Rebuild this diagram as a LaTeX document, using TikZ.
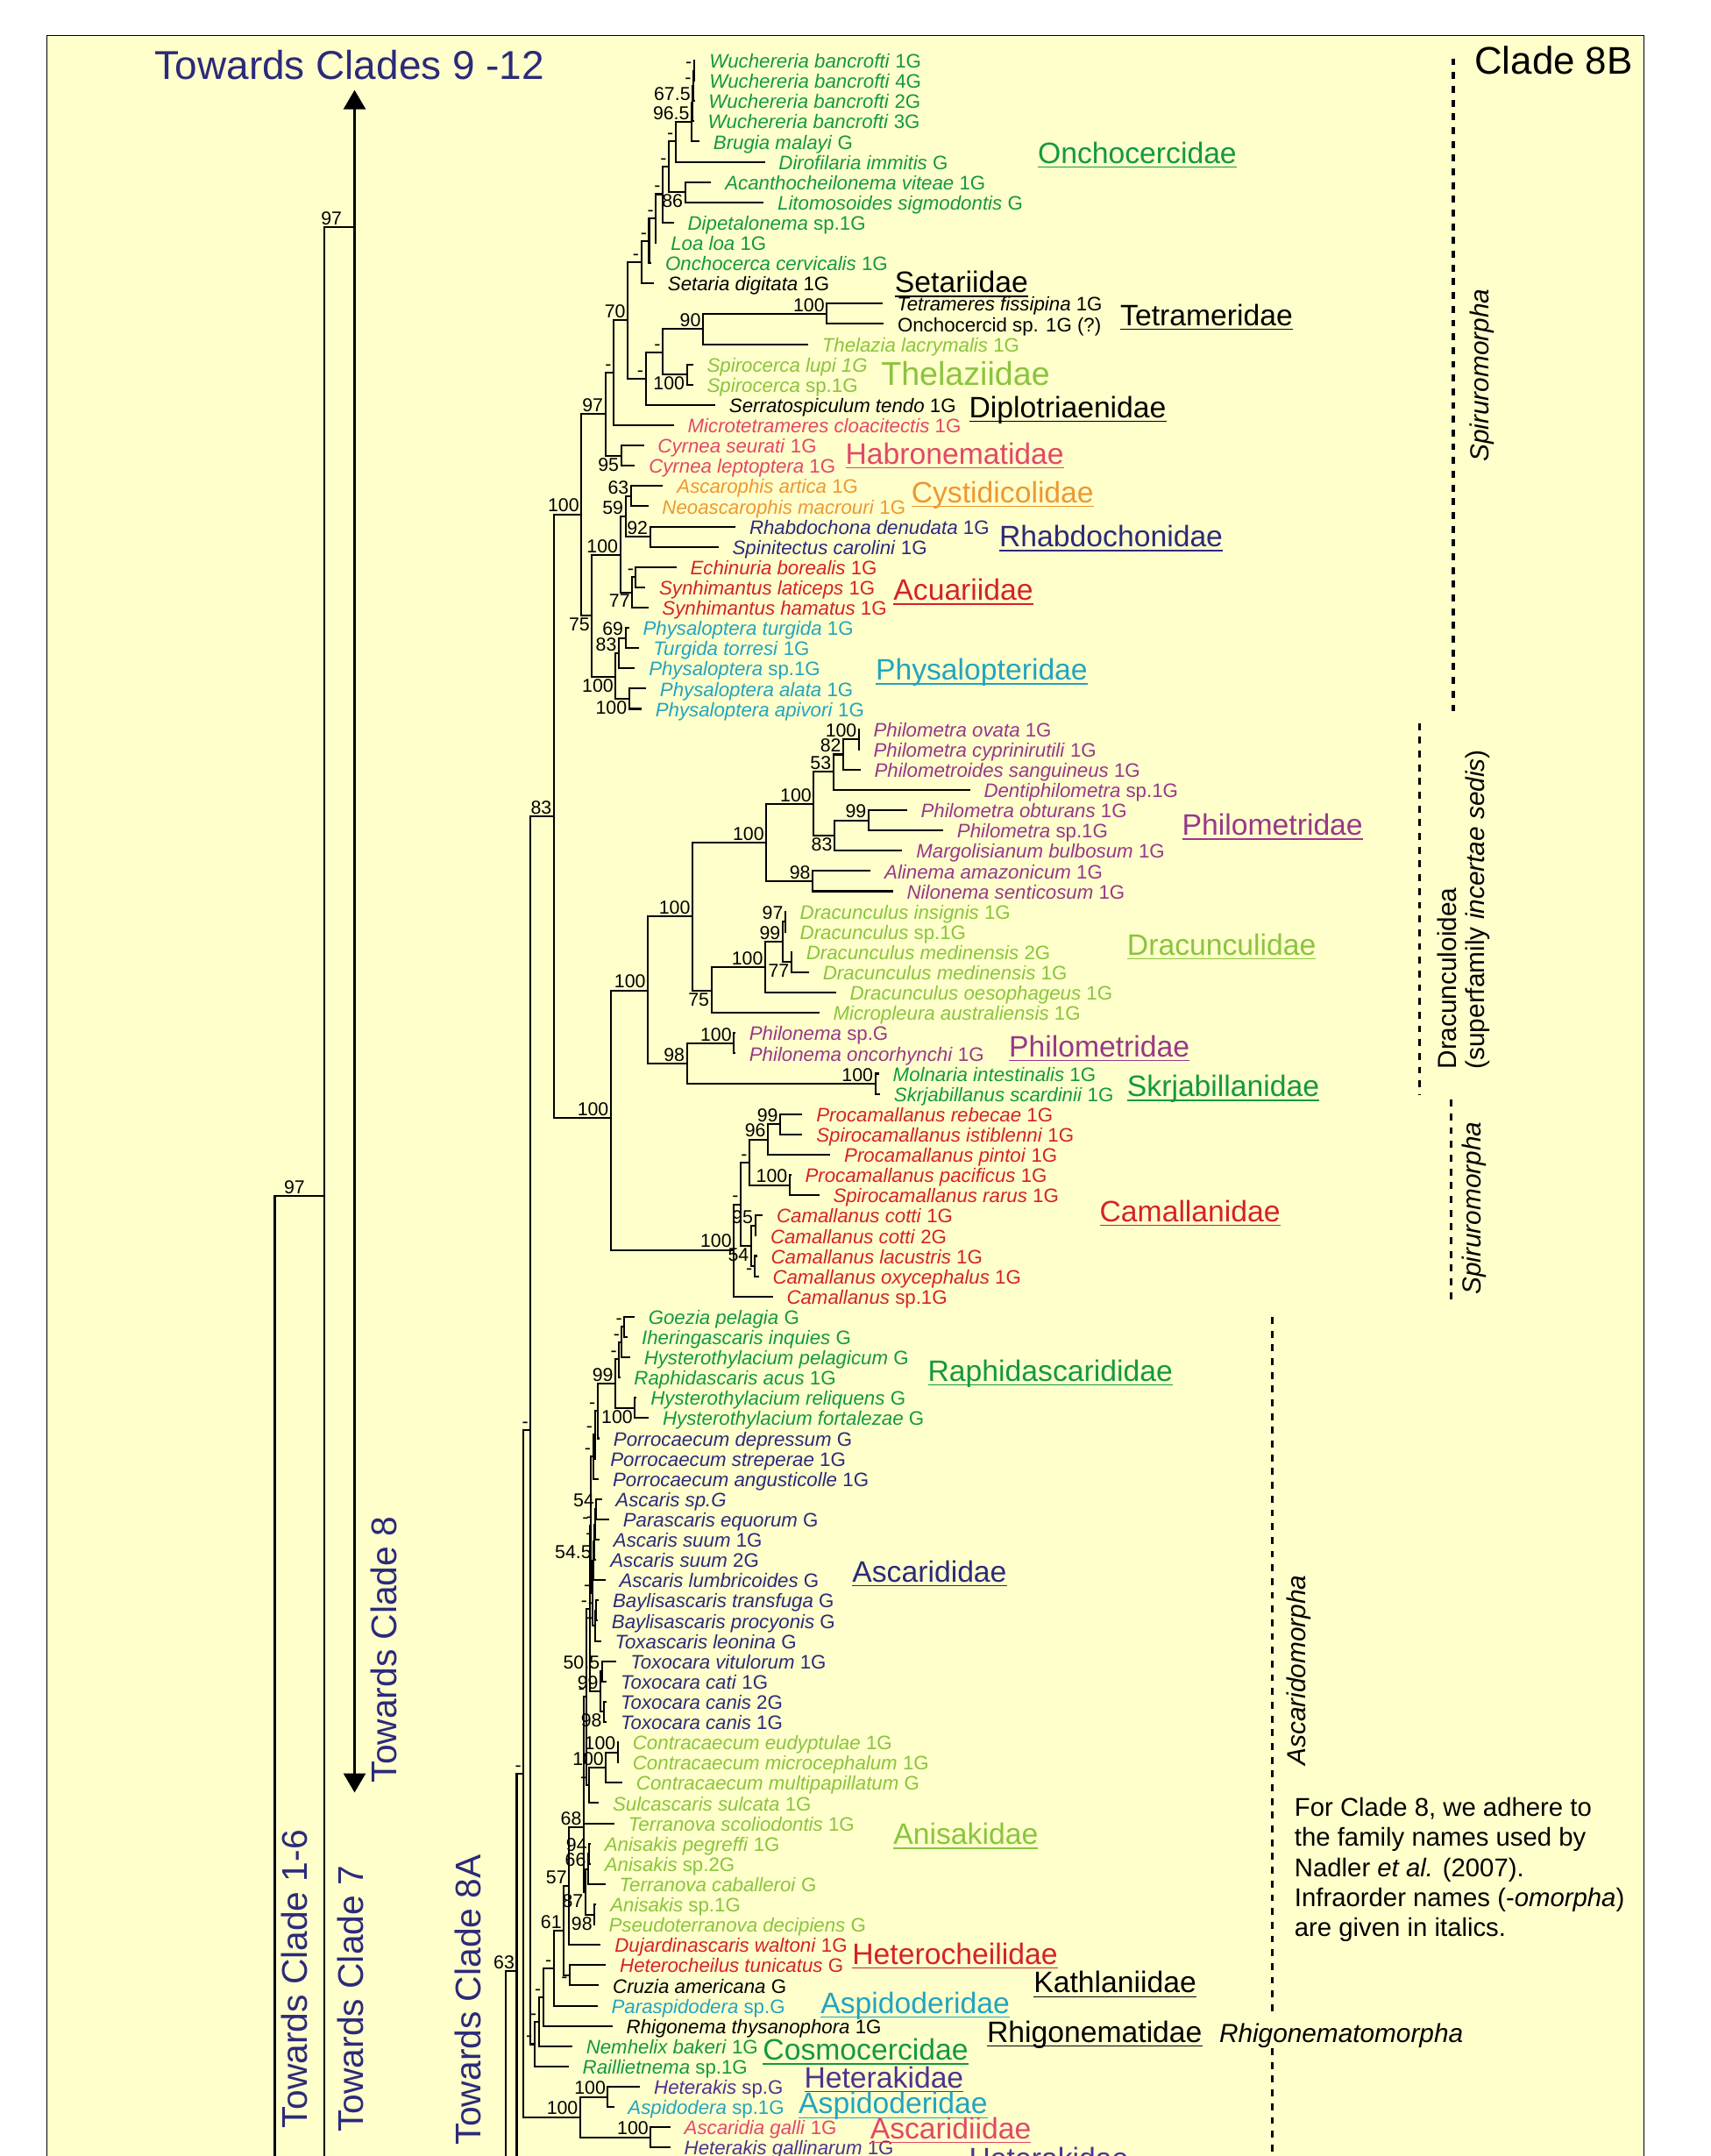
\documentclass[tikz,border=0pt]{standalone}
\usepackage{fontspec}
\setmainfont{Liberation Sans}
\usetikzlibrary{arrows.meta}
\definecolor{bgyellow}{RGB}{255,255,204}
\definecolor{navy}{RGB}{43,42,122}
\definecolor{ongreen}{RGB}{20,152,66}
\definecolor{ylgreen}{RGB}{138,196,62}
\definecolor{rosered}{RGB}{226,72,104}
\definecolor{tomred}{RGB}{212,34,40}
\definecolor{amber}{RGB}{236,152,50}
\definecolor{physteal}{RGB}{36,164,190}
\definecolor{plum}{RGB}{152,56,138}
\definecolor{hetpurple}{RGB}{78,50,142}
\newcommand\famul[1]{\setbox0\hbox{#1}\rlap{\rule[-3.2pt]{\wd0}{0.9pt}}\box0}
\begin{document}
\begin{tikzpicture}[x=1pt,y=-1pt,
  leaf/.style={anchor=west,inner xsep=9.5pt,inner ysep=0pt,text height=11pt,text depth=0pt,font=\fontsize{14.2}{14.2}\selectfont},
  bs/.style={inner sep=1pt,text=black,font=\fontsize{13.6}{13.6}\selectfont},
  al/.style={label={[bs]above left:#1}},
  bl/.style={label={[bs]below left:#1}},
  fam/.style={anchor=base west,inner sep=0pt,font=\fontsize{21.5}{21.5}\selectfont},
  sidetext/.style={inner sep=0pt,font=\fontsize{19}{19}\selectfont},
  toward/.style={inner sep=0pt,text=navy,font=\fontsize{26}{26}\selectfont},
  dotline/.style={line width=2pt,dash pattern=on 5pt off 5pt},
  trunk/.style={line width=1.4pt}]
\useasboundingbox (0,0) rectangle (1245,1568.4);
\clip (0,0) rectangle (1245,1568.4);
\fill[white] (0,0) rectangle (1245,1568.4);
\draw[fill=bgyellow,line width=0.8pt] (34,26) rectangle (1196,1600);

\node[toward,font=\fontsize{29.3}{29.3}\selectfont] (tc912) at (254.5,47) {Towards Clades 9 -12};
\node[inner sep=0pt,font=\fontsize{28}{28}\selectfont] (c8b) at (1130.5,44) {Clade 8B};
\coordinate (up) at (258,65.5);
\coordinate (dn) at (258,1304);
\draw[line width=1.6pt,{Triangle[width=16pt,length=14pt]}-{Triangle[width=16pt,length=14pt]}] (dn) -- (up);
\coordinate[label={[bs,xshift=-8pt]above left:97}] (c9) at (258,165);
\coordinate[label={[bs,xshift=-13pt]above left:97}] (k7) at (236,870);
\coordinate (k7b) at (236,1600);
\coordinate (k6b) at (200,1600);
\draw[trunk] (c9) -| (k7) -- (k7b);
\draw[trunk] (k7) -| (k6b);
\node[toward,rotate=90,anchor=east] (tc16) at (214.5,1331) {Towards Clade 1-6};
\node[toward,rotate=90,anchor=east] (tc7) at (255,1357) {Towards Clade 7};
\node[toward,rotate=90,anchor=east] (tc8) at (279.5,1103) {Towards Clade 8};
\node[toward,rotate=90,anchor=east] (tc8a) at (340.5,1349) {Towards Clade 8A};

\begin{scope}[y=-14.74pt,yshift=-44pt,line width=1.3pt]
\node[leaf,ongreen] (wbA) at (506,0) {\textit{Wuchereria bancrofti} 1G};
\node[leaf,ongreen] (wbB) at (506,1) {\textit{Wuchereria bancrofti} 4G};
\node[leaf,ongreen] (wbC) at (505.5,2) {\textit{Wuchereria bancrofti} 2G};
\node[leaf,ongreen] (wbD) at (505,3) {\textit{Wuchereria bancrofti} 3G};
\node[leaf,ongreen] (bma) at (509,4) {\textit{Brugia malayi} G};
\node[leaf,ongreen] (dim) at (556.5,5) {\textit{Dirofilaria immitis} G};
\node[leaf,ongreen] (avi) at (517.5,6) {\textit{Acanthocheilonema viteae} 1G};
\node[leaf,ongreen] (lsi) at (555.7,7) {\textit{Litomosoides sigmodontis} G};
\node[leaf,ongreen] (dip) at (490.3,8) {\textit{Dipetalonema} sp.1G};
\node[leaf,ongreen] (llo) at (478,9) {\textit{Loa loa} 1G};
\node[leaf,ongreen] (oce) at (474,10) {\textit{Onchocerca cervicalis} 1G};
\node[leaf] (sdi) at (475.8,11) {\textit{Setaria digitata} 1G};
\node[leaf] (tfi) at (642.5,12) {\textit{Tetrameres fissipina} 1G};
\node[leaf] (onc) at (643,13) {Onchocercid sp. 1G (?)};
\node[leaf,ylgreen] (tla) at (588,14) {\textit{Thelazia lacrymalis} 1G};
\node[leaf,ylgreen] (slu) at (504.3,15) {\textit{Spirocerca lupi 1G}};
\node[leaf,ylgreen] (ssp) at (504.3,16) {\textit{Spirocerca} sp.1G};
\node[leaf] (ste) at (520.5,17) {\textit{Serratospiculum tendo} 1G};
\node[leaf,rosered] (mcl) at (490.3,18) {\textit{Microtetrameres cloacitectis} 1G};
\node[leaf,rosered] (cse) at (468.5,19) {\textit{Cyrnea seurati} 1G};
\node[leaf,rosered] (cle) at (462,20) {\textit{Cyrnea leptoptera} 1G};
\node[leaf,amber] (aar) at (482.5,21) {\textit{Ascarophis artica} 1G};
\node[leaf,amber] (nma) at (471.7,22) {\textit{Neoascarophis macrouri} 1G};
\node[leaf,navy] (rde) at (535.2,23) {\textit{Rhabdochona denudata} 1G};
\node[leaf,navy] (sca) at (522.8,24) {\textit{Spinitectus carolini} 1G};
\node[leaf,tomred] (ebo) at (492.2,25) {\textit{Echinuria borealis} 1G};
\node[leaf,tomred] (sla) at (469.5,26) {\textit{Synhimantus laticeps} 1G};
\node[leaf,tomred] (sha) at (471.7,27) {\textit{Synhimantus hamatus} 1G};
\node[leaf,physteal] (ptu) at (457.7,28) {\textit{Physaloptera turgida} 1G};
\node[leaf,physteal] (tto) at (465.2,29) {\textit{Turgida torresi} 1G};
\node[leaf,physteal] (psp) at (462,30) {\textit{Physaloptera} sp.1G};
\node[leaf,physteal] (pal) at (470.1,31) {\textit{Physaloptera alata} 1G};
\node[leaf,physteal] (pap) at (466.8,32) {\textit{Physaloptera apivori} 1G};
\node[leaf,plum] (pov) at (625.5,33) {\textit{Philometra ovata} 1G};
\node[leaf,plum] (pcy) at (625.5,34) {\textit{Philometra cyprinirutili} 1G};
\node[leaf,plum] (psa) at (626.1,35) {\textit{Philometroides sanguineus} 1G};
\node[leaf,plum] (dsp) at (705.8,36) {\textit{Dentiphilometra} sp.1G};
\node[leaf,plum] (pob) at (659.9,37) {\textit{Philometra obturans} 1G};
\node[leaf,plum] (phs) at (686.3,38) {\textit{Philometra} sp.1G};
\node[leaf,plum] (mbu) at (656.6,39) {\textit{Margolisianum bulbosum} 1G};
\node[leaf,plum] (aam) at (633.5,40) {\textit{Alinema amazonicum} 1G};
\node[leaf,plum] (nse) at (649.7,41) {\textit{Nilonema senticosum} 1G};
\node[leaf,ylgreen] (din) at (572,42) {\textit{Dracunculus insignis} 1G};
\node[leaf,ylgreen] (dsq) at (572,43) {\textit{Dracunculus} sp.1G};
\node[leaf,ylgreen] (dmB) at (576.5,44) {\textit{Dracunculus medinensis} 2G};
\node[leaf,ylgreen] (dmA) at (588.7,45) {\textit{Dracunculus medinensis} 1G};
\node[leaf,ylgreen] (doe) at (608.3,46) {\textit{Dracunculus oesophageus} 1G};
\node[leaf,ylgreen] (mau) at (596.1,47) {\textit{Micropleura australiensis} 1G};
\node[leaf,plum] (phn) at (535.1,48) {\textit{Philonema} sp.G};
\node[leaf,plum] (pon) at (535.1,49) {\textit{Philonema oncorhynchi} 1G};
\node[leaf,ongreen] (min) at (639.6,50) {\textit{Molnaria intestinalis} 1G};
\node[leaf,ongreen] (ssc) at (640.4,51) {\textit{Skrjabillanus scardinii} 1G};
\node[leaf,tomred] (pre) at (583.9,52) {\textit{Procamallanus rebecae} 1G};
\node[leaf,tomred] (sis) at (583.9,53) {\textit{Spirocamallanus istiblenni} 1G};
\node[leaf,tomred] (ppi) at (604.2,54) {\textit{Procamallanus pintoi} 1G};
\node[leaf,tomred] (ppa) at (575.7,55) {\textit{Procamallanus pacificus} 1G};
\node[leaf,tomred] (sra) at (596.1,56) {\textit{Spirocamallanus rarus} 1G};
\node[leaf,tomred] (ccA) at (555,57) {\textit{Camallanus cotti} 1G};
\node[leaf,tomred] (ccB) at (550.5,58) {\textit{Camallanus cotti} 2G};
\node[leaf,tomred] (cla) at (550.9,59) {\textit{Camallanus lacustris} 1G};
\node[leaf,tomred] (cox) at (552.1,60) {\textit{Camallanus oxycephalus} 1G};
\node[leaf,tomred] (csp) at (562.3,61) {\textit{Camallanus} sp.1G};
\node[leaf,ongreen] (gpe) at (461.7,62) {\textit{Goezia pelagia} G};
\node[leaf,ongreen] (iin) at (456.8,63) {\textit{Iheringascaris inquies} G};
\node[leaf,ongreen] (hpe) at (458.5,64) {\textit{Hysterothylacium pelagicum} G};
\node[leaf,ongreen] (rac) at (451.3,65) {\textit{Raphidascaris acus} 1G};
\node[leaf,ongreen] (hre) at (463.3,66) {\textit{Hysterothylacium reliquens} G};
\node[leaf,ongreen] (hfo) at (472.1,67) {\textit{Hysterothylacium fortalezae} G};
\node[leaf,navy] (pde) at (436.3,68) {\textit{Porrocaecum depressum} G};
\node[leaf,navy] (pst) at (434,69) {\textit{Porrocaecum streperae} 1G};
\node[leaf,navy] (pan) at (435.7,70) {\textit{Porrocaecum angusticolle} 1G};
\node[leaf,navy] (asp) at (437.9,71) {\textit{Ascaris sp.G}};
\node[leaf,navy] (peq) at (443.2,72) {\textit{Parascaris equorum} G};
\node[leaf,navy] (asA) at (436.3,73) {\textit{Ascaris suum} 1G};
\node[leaf,navy] (asB) at (434,74) {\textit{Ascaris suum} 2G};
\node[leaf,navy] (alu) at (440.5,75) {\textit{Ascaris lumbricoides} G};
\node[leaf,navy] (btr) at (435.7,76) {\textit{Baylisascaris transfuga} G};
\node[leaf,navy] (bpr) at (435,77) {\textit{Baylisascaris procyonis} G};
\node[leaf,navy] (tle) at (437.3,78) {\textit{Toxascaris leonina} G};
\node[leaf,navy] (tvi) at (448.7,79) {\textit{Toxocara vitulorum} 1G};
\node[leaf,navy] (tca) at (441.5,80) {\textit{Toxocara cati} 1G};
\node[leaf,navy] (tcB) at (441.5,81) {\textit{Toxocara canis} 2G};
\node[leaf,navy] (tcA) at (441.5,82) {\textit{Toxocara canis} 1G};
\node[leaf,ylgreen] (ceu) at (450.3,83) {\textit{Contracaecum eudyptulae} 1G};
\node[leaf,ylgreen] (cmi) at (450.3,84) {\textit{Contracaecum microcephalum} 1G};
\node[leaf,ylgreen] (cmu) at (452.9,85) {\textit{Contracaecum multipapillatum} G};
\node[leaf,ylgreen] (ssu) at (435.7,86) {\textit{Sulcascaris sulcata} 1G};
\node[leaf,ylgreen] (tsc) at (447.1,87) {\textit{Terranova scoliodontis} 1G};
\node[leaf,ylgreen] (ape) at (429.8,88) {\textit{Anisakis pegreffi} 1G};
\node[leaf,ylgreen] (asq) at (429.8,89) {\textit{Anisakis} sp.2G};
\node[leaf,ylgreen] (tcb) at (440.5,90) {\textit{Terranova caballeroi} G};
\node[leaf,ylgreen] (asr) at (434,91) {\textit{Anisakis} sp.1G};
\node[leaf,ylgreen] (pdc) at (432.9,92) {\textit{Pseudoterranova decipiens} G};
\node[leaf,tomred] (dwa) at (437.2,93) {\textit{Dujardinascaris waltoni} 1G};
\node[leaf,tomred] (htu) at (440.9,94) {\textit{Heterocheilus tunicatus} G};
\node[leaf] (cru) at (435.8,95) {\textit{Cruzia americana} G};
\node[leaf,physteal] (par) at (434.8,96) {\textit{Paraspidodera} sp.G};
\node[leaf] (rth) at (445.7,97) {\textit{Rhigonema thysanophora} 1G};
\node[leaf,ongreen] (nba) at (416.4,98) {\textit{Nemhelix bakeri} 1G};
\node[leaf,ongreen] (rai) at (413.8,99) {\textit{Raillietnema} sp.1G};
\node[leaf,hetpurple] (hsp) at (465.8,100) {\textit{Heterakis} sp.G};
\node[leaf,physteal] (asd) at (446.8,101) {\textit{Aspidodera} sp.1G};
\node[leaf,rosered] (aga) at (487.8,102) {\textit{Ascaridia galli} 1G};
\node[leaf,hetpurple] (hga) at (487.8,103) {\textit{Heterakis gallinarum} 1G};

\coordinate[al=-] (o1) at (505,0.5);
\coordinate[al=-] (o2) at (504.5,1.25);
\coordinate[al=67.5] (o3) at (504,2.1);
\coordinate[al=96.5] (o4) at (503.3,3.05);
\coordinate[al=-] (o5) at (491.6,4);
\coordinate[bl=86] (o6) at (498.5,6.5);
\coordinate[al=-] (o7) at (486.7,5.25);
\coordinate[al=-] (o8) at (482.2,6.6);
\coordinate[al=-] (o9) at (477.3,7.8);
\coordinate[al=-] (o10) at (472.3,8.9);
\coordinate[al=-] (o11) at (466.6,9.95);
\coordinate[al=100] (th1) at (601.6,12.5);
\coordinate[al=90] (th2) at (511.5,13.25);
\coordinate[bl=100] (th3) at (499.8,15.5);
\coordinate[al=-] (th4) at (482.2,14.4);
\coordinate[al=-] (th5) at (469.8,15.7);
\coordinate[al=70] (o12) at (456.8,12.8);
\coordinate[al=-] (o13) at (446.5,15.4);
\coordinate[bl=95] (cy) at (452,19.5);
\coordinate[al=97] (o14) at (440.5,17.45);
\coordinate[al=63] (cd) at (459.1,21.5);
\coordinate[al=92] (rh) at (473,23.5);
\coordinate[al=59] (cr) at (455.2,22.5);
\coordinate[al=-] (ac1) at (462.7,25.5);
\coordinate[bl=77] (ac2) at (460,26.25);
\coordinate[al=100] (cra) at (451.3,24.4);
\coordinate[al=69] (pp1) at (455.2,28.5);
\coordinate[al=83] (pp2) at (450.3,29.25);
\coordinate[bl=100] (pp3) at (457.8,31.5);
\coordinate[bl=100] (pp4) at (448,30.4);
\coordinate[bl=75] (crp) at (430.8,27.4);
\coordinate[al=100] (sp1) at (423,22.4);
\draw (wbA.west) -| (o1) |- (wbB.west);
\draw (o1) -| (o2) |- (wbC.west);
\draw (o2) -| (o3) |- (wbD.west);
\draw (o3) -| (o4) |- (bma.west);
\draw (o4) -| (o5) |- (dim.west);
\draw (avi.west) -| (o6) |- (lsi.west);
\draw (o5) -| (o7) |- (o6);
\draw (o7) -| (o8) |- (dip.west);
\draw (o8) -| (o9) |- (llo.west);
\draw (o9) -| (o10) |- (oce.west);
\draw (o10) -| (o11) |- (sdi.west);
\draw (tfi.west) -| (th1) |- (onc.west);
\draw (th1) -| (th2) |- (tla.west);
\draw (slu.west) -| (th3) |- (ssp.west);
\draw (th2) -| (th4) |- (th3);
\draw (th4) -| (th5) |- (ste.west);
\draw (o11) -| (o12) |- (th5);
\draw (o12) -| (o13) |- (mcl.west);
\draw (cse.west) -| (cy) |- (cle.west);
\draw (o13) -| (o14) |- (cy);
\draw (aar.west) -| (cd) |- (nma.west);
\draw (rde.west) -| (rh) |- (sca.west);
\draw (cd) -| (cr) |- (rh);
\draw (ebo.west) -| (ac1) |- (sla.west);
\draw (ac1) -| (ac2) |- (sha.west);
\draw (cr) -| (cra) |- (ac2);
\draw (ptu.west) -| (pp1) |- (tto.west);
\draw (pp1) -| (pp2) |- (psp.west);
\draw (pal.west) -| (pp3) |- (pap.west);
\draw (pp2) -| (pp4) |- (pp3);
\draw (cra) -| (crp) |- (pp4);
\draw (o14) -| (sp1) |- (crp);

\coordinate[al=100] (d1) at (625,33.5);
\coordinate[al=82] (d2) at (613.7,34.25);
\coordinate[al=53] (d3) at (606.4,35.1);
\coordinate[al=99] (d4) at (632,37.5);
\coordinate[bl=83] (d5) at (607.2,38.25);
\coordinate[al=100] (d6) at (592.1,36.7);
\coordinate[al=98] (d7) at (591.3,40.5);
\coordinate[al=100] (d8) at (557.6,38.6);
\coordinate[al=97] (d9) at (571.5,42.5);
\coordinate[bl=77] (d10) at (575.9,44.5);
\coordinate[al=99] (d11) at (569.5,43.5);
\coordinate[al=100] (d12) at (556.8,44.75);
\coordinate[bl=75] (d13) at (517.7,45.9);
\coordinate[al=100] (d14) at (503.9,42.25);
\coordinate[al=100] (d15) at (534,48.5);
\coordinate[al=100] (d16) at (636.9,50.5);
\coordinate[al=98] (d17) at (499.8,49.5);
\coordinate[al=100] (d18) at (471.4,45.9);
\coordinate[al=99] (ca1) at (567.7,52.5);
\coordinate[al=96] (ca2) at (558.8,53.25);
\coordinate[al=100] (ca3) at (574.6,55.5);
\coordinate[al=-] (ca4) at (545.4,54.4);
\coordinate[al=95] (ca5) at (549.5,57.5);
\coordinate[bl=-] (ca6) at (549,59.5);
\coordinate[bl=54] (ca7) at (546.5,58.5);
\coordinate[al=-] (ca8) at (539,56.45);
\coordinate[al=100] (cm) at (534,58.7);
\coordinate[al=100] (dc) at (444.5,52.2);
\coordinate[al=83] (sp2) at (403,37.3);
\draw (pov.west) -| (d1) |- (pcy.west);
\draw (d1) -| (d2) |- (psa.west);
\draw (d2) -| (d3) |- (dsp.west);
\draw (pob.west) -| (d4) |- (phs.west);
\draw (d4) -| (d5) |- (mbu.west);
\draw (d3) -| (d6) |- (d5);
\draw (aam.west) -| (d7) |- (nse.west);
\draw (d6) -| (d8) |- (d7);
\draw (din.west) -| (d9) |- (dsq.west);
\draw (dmB.west) -| (d10) |- (dmA.west);
\draw (d9) -| (d11) |- (d10);
\draw (d11) -| (d12) |- (doe.west);
\draw (d12) -| (d13) |- (mau.west);
\draw (d8) -| (d14) |- (d13);
\draw (phn.west) -| (d15) |- (pon.west);
\draw (min.west) -| (d16) |- (ssc.west);
\draw (d15) -| (d17) |- (d16);
\draw (d14) -| (d18) |- (d17);
\draw (pre.west) -| (ca1) |- (sis.west);
\draw (ca1) -| (ca2) |- (ppi.west);
\draw (ppa.west) -| (ca3) |- (sra.west);
\draw (ca2) -| (ca4) |- (ca3);
\draw (ccA.west) -| (ca5) |- (ccB.west);
\draw (cla.west) -| (ca6) |- (cox.west);
\draw (ca5) -| (ca7) |- (ca6);
\draw (ca4) -| (ca8) |- (ca7);
\draw (ca8) -| (cm) |- (csp.west);
\draw (d18) -| (dc) |- (cm);
\draw (sp1) -| (sp2) |- (dc);

\coordinate[al=-] (r1) at (454.3,62.5);
\coordinate[al=-] (r2) at (452.5,63.25);
\coordinate[al=-] (r3) at (450.5,64.1);
\coordinate[bl=100] (r4) at (462,66.5);
\coordinate[al=99] (r5) at (447.8,65.3);
\coordinate[al=-] (p1) at (434.8,66.65);
\coordinate[al=-] (p2) at (432.8,67.8);
\coordinate[al=-] (p3) at (431.5,68.9);
\coordinate[al=54] (a1) at (434,71.5);
\coordinate[al=-] (a2) at (433,72.25);
\coordinate[al=-] (a3) at (432.5,73.1);
\coordinate[al=54.5] (a4) at (432,74.05);
\coordinate[al=-] (b1) at (434,76.5);
\coordinate[al=-] (b2) at (433,77.25);
\coordinate[al=-] (a5) at (431,75.65);
\coordinate[al=-] (p4) at (430,72.3);
\coordinate[al=50.5] (x1) at (438,79.5);
\coordinate[bl=98] (x2) at (439.5,81.5);
\coordinate[al=99] (x3) at (437,80.5);
\coordinate[al=-] (x4) at (429,76.4);
\coordinate[al=100] (c1) at (449.6,83.5);
\coordinate[al=100] (c2) at (441,84.25);
\coordinate[al=-] (s1) at (428.5,85.1);
\coordinate[al=-] (s0) at (427,80.75);
\coordinate[al=94] (k1) at (428.8,88.5);
\coordinate[al=66] (k2) at (428,89.25);
\coordinate[bl=98] (k3) at (432.6,91.5);
\coordinate[bl=87] (k4) at (426,90.4);
\coordinate[al=68] (nE) at (424.8,87.2);
\coordinate[al=57] (nD) at (414.1,90.1);
\coordinate[bl=-] (hc) at (414.6,94.5);
\coordinate[al=61] (nQ) at (410.3,92.3);
\coordinate[al=-] (nP) at (402.9,94.15);
\coordinate[al=-] (nR) at (395.4,95.6);
\coordinate[al=-] (nN) at (392.2,96.8);
\coordinate[al=-] (nA) at (389,97.9);
\coordinate[al=100] (h1) at (442.3,100.5);
\coordinate[al=100] (h2) at (473.5,102.5);
\coordinate[al=100] (h3) at (422.2,101.5);
\coordinate[al=-] (q1) at (386,67.6);
\coordinate[al=-] (q2) at (381,84.55);
\coordinate[al=63] (q3) at (376,94.3);
\coordinate (q3b) at (376,106);
\coordinate (q4) at (368,107);
\draw (gpe.west) -| (r1) |- (iin.west);
\draw (r1) -| (r2) |- (hpe.west);
\draw (r2) -| (r3) |- (rac.west);
\draw (hre.west) -| (r4) |- (hfo.west);
\draw (r3) -| (r5) |- (r4);
\draw (r5) -| (p1) |- (pde.west);
\draw (p1) -| (p2) |- (pst.west);
\draw (p2) -| (p3) |- (pan.west);
\draw (asp.west) -| (a1) |- (peq.west);
\draw (a1) -| (a2) |- (asA.west);
\draw (a2) -| (a3) |- (asB.west);
\draw (a3) -| (a4) |- (alu.west);
\draw (btr.west) -| (b1) |- (bpr.west);
\draw (b1) -| (b2) |- (tle.west);
\draw (a4) -| (a5) |- (b2);
\draw (p3) -| (p4) |- (a5);
\draw (tvi.west) -| (x1) |- (tca.west);
\draw (tcB.west) -| (x2) |- (tcA.west);
\draw (x1) -| (x3) |- (x2);
\draw (p4) -| (x4) |- (x3);
\draw (ceu.west) -| (c1) |- (cmi.west);
\draw (c1) -| (c2) |- (cmu.west);
\draw (c2) -| (s1) |- (ssu.west);
\draw (x4) -| (s0) |- (s1);
\draw (ape.west) -| (k1) |- (asq.west);
\draw (k1) -| (k2) |- (tcb.west);
\draw (asr.west) -| (k3) |- (pdc.west);
\draw (k2) -| (k4) |- (k3);
\draw (s0) -| (nE) |- (k4);
\draw (nE) |- (tsc.west);
\draw (nE) -| (nD) |- (dwa.west);
\draw (htu.west) -| (hc) |- (cru.west);
\draw (nD) -| (nQ) |- (hc);
\draw (nQ) -| (nP) |- (par.west);
\draw (nP) -| (nR) |- (rth.west);
\draw (nR) -| (nN) |- (nba.west);
\draw (nN) -| (nA) |- (rai.west);
\draw (hsp.west) -| (h1) |- (asd.west);
\draw (aga.west) -| (h2) |- (hga.west);
\draw (h1) -| (h3) |- (h2);
\draw (sp2) -| (q1) |- (nA);
\draw (q1) -| (q2) |- (h3);
\draw (q2) -| (q3) -- (q3b);
\draw (q3) -| (q4);
\end{scope}

\node[fam,ongreen] (fOnc) at (755,118.7) {\famul{Onchocercidae}};
\node[fam] (fSet) at (651,212.7) {\famul{Setariidae}};
\node[fam] (fTet) at (815,236.7) {\famul{Tetrameridae}};
\node[fam,ylgreen,font=\fontsize{24}{24}\selectfont] (fThe) at (641,280.6) {Thelaziidae};
\node[fam] (fDip) at (705,303.7) {\famul{Diplotriaenidae}};
\node[fam,rosered] (fHab) at (615,337.7) {\famul{Habronematidae}};
\node[fam,amber] (fCys) at (663,365.7) {\famul{Cystidicolidae}};
\node[fam,navy] (fRha) at (727,397.7) {\famul{Rhabdochonidae}};
\node[fam,tomred] (fAcu) at (650,436.7) {\famul{Acuariidae}};
\node[fam,physteal] (fPhy) at (637,494.7) {\famul{Physalopteridae}};
\node[fam,plum] (fPhiA) at (860,607.7) {\famul{Philometridae}};
\node[fam,ylgreen] (fDra) at (820,694.7) {\famul{Dracunculidae}};
\node[fam,plum] (fPhiB) at (734,768.7) {\famul{Philometridae}};
\node[fam,ongreen] (fSkr) at (820,797.7) {\famul{Skrjabillanidae}};
\node[fam,tomred] (fCam) at (800,888.7) {\famul{Camallanidae}};
\node[fam,ongreen] (fRap) at (675,1004.7) {\famul{Raphidascarididae}};
\node[fam,navy] (fAsc) at (620,1150.7) {\famul{Ascarididae}};
\node[fam,ylgreen] (fAni) at (650,1341.7) {\famul{Anisakidae}};
\node[fam,tomred] (fHec) at (620,1428.7) {\famul{Heterocheilidae}};
\node[fam] (fKat) at (752,1449.7) {\famul{Kathlaniidae}};
\node[fam,physteal] (fAspA) at (597,1464.7) {\famul{Aspidoderidae}};
\node[fam] (fRhi) at (718,1485.7) {\famul{Rhigonematidae}};
\node[fam,ongreen] (fCos) at (555,1498.7) {\famul{Cosmocercidae}};
\node[fam,hetpurple] (fHetA) at (585,1518.7) {\famul{Heterakidae}};
\node[fam,physteal] (fAspB) at (581,1537.7) {\famul{Aspidoderidae}};
\node[fam,rosered] (fAsd) at (633,1555.7) {\famul{Ascaridiidae}};
\node[fam,hetpurple] (fHetB) at (705,1577.7) {\famul{Heterakidae}};
\node[anchor=base west,inner sep=0pt,font=\fontsize{19}{19}\selectfont\itshape] (rhm) at (887,1485.5) {Rhigonematomorpha};

\draw[dotline] (1057.5,42.5) -- (1057.5,518.5);
\node[sidetext,rotate=90,font=\fontsize{19}{19}\selectfont\itshape] (spiA) at (1078.5,273) {Spiruromorpha};
\draw[dotline] (1032.7,526) -- (1032.7,796.5);
\node[sidetext,rotate=90,anchor=south west,align=left,font=\fontsize{19}{20.5}\selectfont] (dra) at (1084.5,778) {Dracunculoidea\\(superfamily \textit{incertae sedis})};
\draw[dotline] (1055.8,800) -- (1055.8,949);
\node[sidetext,rotate=90,font=\fontsize{19}{19}\selectfont\itshape] (spiB) at (1072.5,879) {Spiruromorpha};
\draw[dotline] (926,958) -- (926,1466);
\draw[dotline] (926,1490) -- (926,1600);
\node[sidetext,rotate=90,font=\fontsize{19}{19}\selectfont\itshape] (ascm) at (945,1215) {Ascaridomorpha};
\node[anchor=north west,inner sep=0pt,align=left,font=\fontsize{18.7}{21.8}\selectfont] (note) at (941.8,1307.6) {For Clade 8, we adhere to\\the family names used by\\Nadler \textit{et al.} (2007).\\Infraorder names (-\textit{omorpha})\\are given in italics.};
\end{tikzpicture}
\end{document}
